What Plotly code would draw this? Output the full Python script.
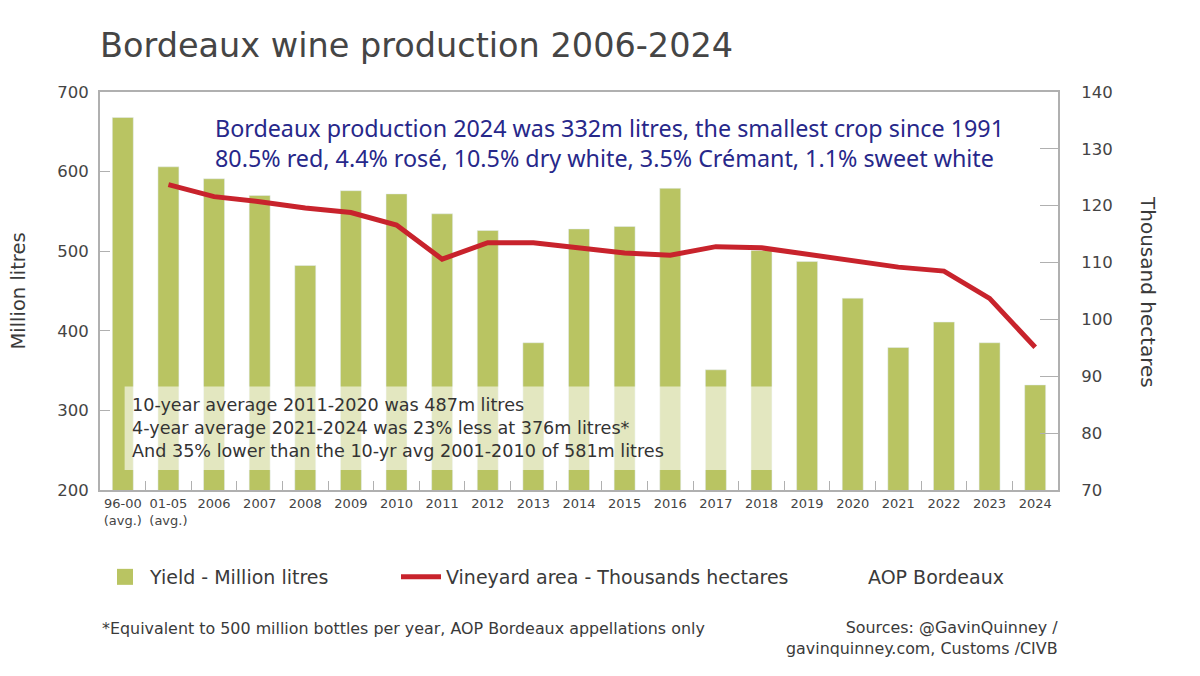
import plotly.graph_objects as go

categories = ["96-00<br>(avg.)", "01-05<br>(avg.)", "2006", "2007", "2008", "2009", "2010",
              "2011", "2012", "2013", "2014", "2015", "2016", "2017", "2018", "2019",
              "2020", "2021", "2022", "2023", "2024"]
yield_mlitres = [668, 606, 591, 570, 482, 576, 572, 547, 526, 385, 528, 531, 579, 351,
                 501, 487, 441, 379, 411, 385, 332]
area_categories = categories[1:]
area_kha = [123.7, 121.6, 120.7, 119.6, 118.8, 116.6, 110.6, 113.5, 113.5, 112.6, 111.7,
            111.3, 112.8, 112.6, 111.5, 110.5, 109.2, 108.5, 103.7, 95.1]

GREEN = "#b9c462"
RED = "#c8232c"
BLUE = "#27288a"
TXT = "#3a3a3a"
AXC = "#b0b0b0"
FONT = "DejaVu Sans"

# plot area in pixels
L, R, T, B = 100, 1058, 92, 490


def px(x):
    return (x - L) / (R - L)


def py(y):
    return (B - y) / (B - T)


fig = go.Figure()
fig.add_trace(go.Bar(x=categories, y=yield_mlitres, marker_color=GREEN, width=0.46,
                     showlegend=False, yaxis="y"))
fig.add_trace(go.Scatter(x=area_categories, y=area_kha, mode="lines",
                         line=dict(color=RED, width=5), yaxis="y2",
                         name="Vineyard area - Thousands hectares", showlegend=False))
# legend proxies
fig.add_trace(go.Scatter(x=[None], y=[None], mode="markers",
                         marker=dict(symbol="square", size=22, color=GREEN),
                         name="Yield - Million litres", yaxis="y", legend="legend"))
fig.add_trace(go.Scatter(x=[None], y=[None], mode="lines",
                         line=dict(color=RED, width=5),
                         name="Vineyard area - Thousands hectares", yaxis="y2",
                         legend="legend2"))

fig.update_layout(
    width=1200, height=676,
    margin=dict(l=L, r=1200 - R, t=T, b=676 - B),
    paper_bgcolor="white", plot_bgcolor="white",
    font=dict(family=FONT, color=TXT, size=16),
    title=dict(text="Bordeaux wine production 2006-2024", x=100/1200, xanchor="left",
               y=1 - 45/676, yanchor="middle",
               font=dict(size=33.5, color="#454545", family=FONT)),
    xaxis=dict(type="category", range=[-0.5, 20.5], showline=True, linecolor=AXC,
               linewidth=2, mirror=True, ticks="inside", ticklen=9, tickcolor=AXC,
               tickson="boundaries", tickfont=dict(size=13, color="#444"),
               tickangle=0, showgrid=False),
    yaxis=dict(range=[200, 700], dtick=100, showline=True, linecolor=AXC, linewidth=2,
               ticks="inside", ticklen=10, tickcolor=AXC, showgrid=False, zeroline=False,
               tickfont=dict(size=16.5, color="#444"), ticklabelstandoff=6,
               title=dict(text="Million litres", standoff=26, font=dict(size=19.5, color=TXT))),
    yaxis2=dict(range=[70, 140], dtick=10, overlaying="y", side="right", showline=True,
                linecolor=AXC, linewidth=2, ticks="inside", ticklen=18, tickcolor=AXC,
                showgrid=False, zeroline=False, tickfont=dict(size=16.5, color="#444"),
                ticklabelstandoff=18),
    legend=dict(orientation="h", x=0.0, y=py(577), xanchor="left", yanchor="middle",
                font=dict(size=19, color=TXT), itemwidth=40, bgcolor="rgba(0,0,0,0)"),
    legend2=dict(orientation="h", x=px(396), y=py(577), xanchor="left", yanchor="middle",
                 font=dict(size=19, color=TXT), itemwidth=40, bgcolor="rgba(0,0,0,0)"),
    bargap=0.54,
)

# translucent box behind the averages text
fig.add_shape(type="rect", xref="x", yref="y", x0=0.04, x1=14.3, y0=225, y1=330,
              fillcolor="white", opacity=0.6, line=dict(width=0), layer="above")

avg_lines = ["10-year average 2011-2020 was 487m litres",
             "4-year average 2021-2024 was 23% less at 376m litres*",
             "And 35% lower than the 10-yr avg 2001-2010 of 581m litres"]
for i, t in enumerate(avg_lines):
    fig.add_annotation(x=px(130), xref="paper", xanchor="left",
                       y=py(405 + 23 * i), yref="paper", yanchor="middle",
                       text=t, showarrow=False,
                       font=dict(size=17.6, color="#333", family=FONT))

note_lines = ["Bordeaux production 2024 was 332m litres, the smallest crop since 1991",
              "80.5% red, 4.4% rosé, 10.5% dry white, 3.5% Crémant, 1.1% sweet white"]
for i, t in enumerate(note_lines):
    fig.add_annotation(x=px(213), xref="paper", xanchor="left",
                       y=py(128 + 30 * i), yref="paper", yanchor="middle",
                       text=t, showarrow=False,
                       font=dict(size=23.3, color=BLUE, family="Noto Sans"))

fig.add_annotation(x=px(1148), xref="paper", xanchor="center", y=py(292), yref="paper",
                   yanchor="middle", text="Thousand hectares", textangle=90,
                   showarrow=False, font=dict(size=20, color=TXT, family=FONT))
fig.add_annotation(x=px(866), xref="paper", xanchor="left", y=py(577), yref="paper",
                   yanchor="middle", text="AOP Bordeaux", showarrow=False,
                   font=dict(size=19, color=TXT, family=FONT))
fig.add_annotation(x=px(100), xref="paper", xanchor="left", y=py(628), yref="paper",
                   yanchor="middle",
                   text="*Equivalent to 500 million bottles per year, AOP Bordeaux appellations only",
                   showarrow=False, font=dict(size=15.9, color=TXT, family=FONT))
fig.add_annotation(x=px(1060), xref="paper", xanchor="right", y=py(638), yref="paper",
                   yanchor="middle", align="right",
                   text="Sources: @GavinQuinney /<br>gavinquinney.com, Customs /CIVB",
                   showarrow=False, font=dict(size=15.9, color=TXT, family=FONT))

fig.write_html("out.html")
